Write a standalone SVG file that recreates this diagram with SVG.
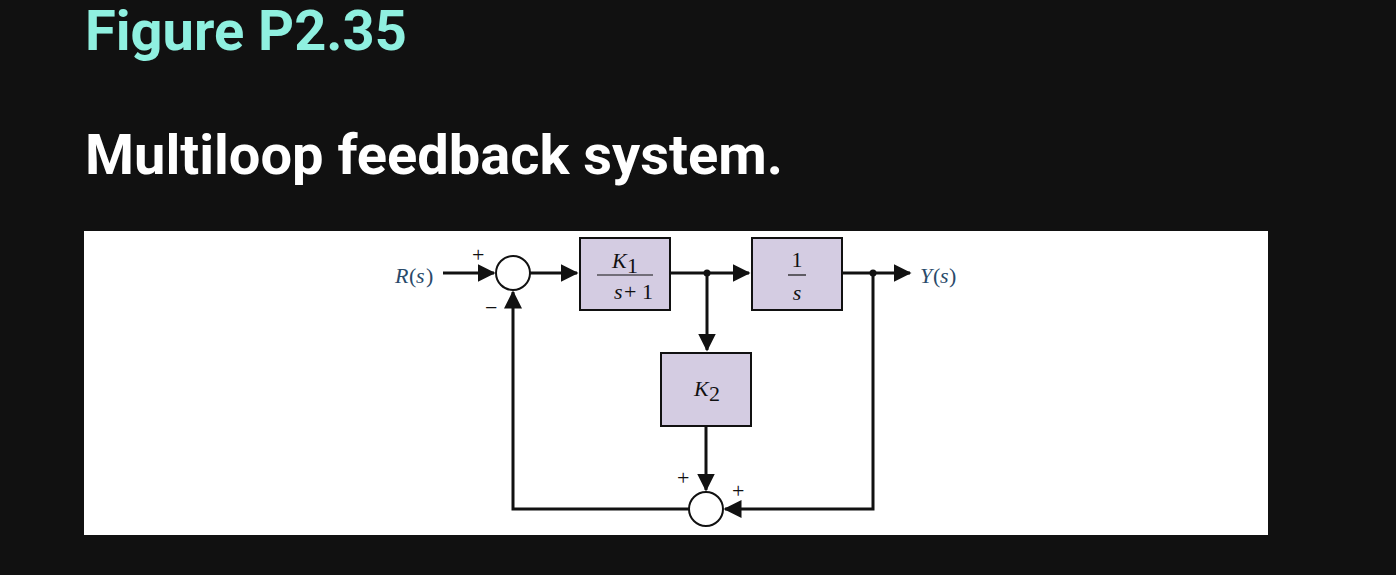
<svg xmlns="http://www.w3.org/2000/svg" width="1396" height="575" viewBox="0 0 1396 575">
<style>
.blk{fill:#d4cce2;stroke:#111;stroke-width:2}
.sum{fill:#fff;stroke:#111;stroke-width:2}
.ln{fill:none;stroke:#111;stroke-width:3}
.m{font-family:"Liberation Serif",serif;font-size:22px;fill:#111;font-style:italic}
.n{font-family:"Liberation Serif",serif;font-size:22px;fill:#111}
.sig{font-family:"Liberation Serif",serif;font-size:22px;fill:#2a4a6a}
.h{font-family:Roboto,"Liberation Sans",sans-serif;font-weight:bold}
</style>
<defs><marker id="a" markerWidth="6" markerHeight="6" refX="5.5" refY="3" orient="auto" markerUnits="strokeWidth"><path d="M0,0L6,3L0,6z" fill="#111"/></marker></defs>
<rect width="1396" height="575" fill="#111"/>
<text class="h" x="85" y="50" font-size="56" fill="#8ff0e0">Figure P2.35</text>
<text class="h" x="85" y="174" font-size="56" fill="#fff">Multiloop feedback system.</text>
<rect x="84" y="231" width="1184" height="304" fill="#fff"/>
<g id="connectors">
<path class="ln" d="M443,273H494" marker-end="url(#a)"/>
<path class="ln" d="M530,273H577" marker-end="url(#a)"/>
<path class="ln" d="M670,273H749" marker-end="url(#a)"/>
<path class="ln" d="M707,273V350" marker-end="url(#a)"/>
<path class="ln" d="M842,273H910" marker-end="url(#a)"/>
<path class="ln" d="M706,426V490" marker-end="url(#a)"/>
<path class="ln" d="M873,273V509H725" marker-end="url(#a)"/>
<path class="ln" d="M689,509H513V292" marker-end="url(#a)"/>
<circle cx="707" cy="273" r="3.5" fill="#111"/>
<circle cx="873" cy="273" r="3.5" fill="#111"/>
</g>
<g id="sum1"><circle class="sum" cx="513" cy="273" r="17"/>
<text class="n" x="472" y="262">+</text><text class="n" x="485" y="315">−</text></g>
<g id="g1"><rect class="blk" x="580" y="238" width="90" height="72"/>
<text class="m" x="612" y="268">K</text><text class="n" x="627" y="273" font-size="15">1</text>
<line x1="597" y1="275" x2="653" y2="275" stroke="#111" stroke-width="1.2"/>
<text class="m" x="614" y="299">s</text><text class="n" x="624" y="299">+ 1</text></g>
<g id="g2"><rect class="blk" x="752" y="238" width="90" height="72"/>
<text class="n" x="797" y="267" text-anchor="middle">1</text>
<line x1="788" y1="275" x2="806" y2="275" stroke="#111" stroke-width="1.2"/>
<text class="m" x="797" y="300" text-anchor="middle">s</text></g>
<g id="k2"><rect class="blk" x="661" y="353" width="90" height="73"/>
<text class="m" x="694" y="396">K</text><text class="n" x="709" y="401" font-size="15">2</text></g>
<g id="sum2"><circle class="sum" cx="706" cy="509" r="17"/>
<text class="n" x="677" y="485">+</text><text class="n" x="732" y="498">+</text></g>
<g id="R"><text class="sig" x="395" y="283" font-style="italic">R</text><text class="sig" x="409" y="283">(</text><text class="sig" x="416" y="283" font-style="italic">s</text><text class="sig" x="426" y="283">)</text></g>
<g id="Y"><text class="sig" x="920" y="283" font-style="italic">Y</text><text class="sig" x="933" y="283">(</text><text class="sig" x="940" y="283" font-style="italic">s</text><text class="sig" x="949" y="283">)</text></g>
</svg>
